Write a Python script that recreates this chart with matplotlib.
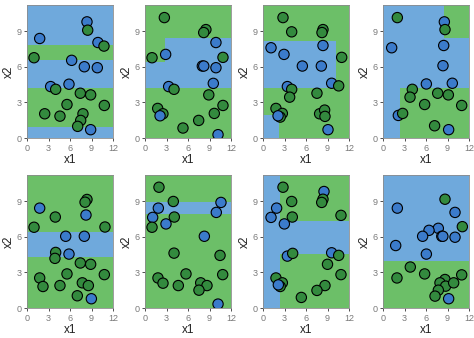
import matplotlib
matplotlib.use("Agg")
import matplotlib.pyplot as plt
from matplotlib.patches import Rectangle

plt.rcParams['font.family'] = ['Liberation Sans', 'DejaVu Sans']

# colours for the two classes
bg_col = {'b': '#6fa9dc', 'g': '#6cbf68'}
pt_col = {'b': '#3b7bcb', 'g': '#338a3e'}

x_ticks = [0, 3, 6, 9, 12]
y_ticks = [0, 3, 6, 9]
x_max = 12
y_max = 11.2

# tree leaves per panel: background class, then rectangles of (x0, x1, y0, y1, class)
trees = [
    ('b', [(0, 12, 0.9, 4.25, 'g'), (0, 12, 6.6, 7.85, 'g')]),
    ('g', [(0, 12, 4.25, 6.37, 'b'), (2.8, 12, 6.37, 8.45, 'b')]),
    ('g', [(0, 10.15, 4.25, 8.2, 'b'), (0, 2.3, 0, 1.9, 'b')]),
    ('b', [(2.35, 12, 0, 4.25, 'g'), (8.47, 12, 8.46, 12, 'g')]),
    ('g', [(0, 12, 4.32, 6.4, 'b')]),
    ('g', [(0, 12, 7.88, 8.9, 'b')]),
    ('b', [(2.33, 12, 7.33, 12, 'g'), (2.33, 12, 0, 4.57, 'g')]),
    ('b', [(0, 12, 0, 4.0, 'g')]),
]

# bootstrap samples (x1, x2, class) per panel
p1_x = [8.37, 8.47, 1.77, 9.9, 10.74, 0.98, 6.23, 8.0, 9.81, 5.86, 3.3, 4.0, 7.44, 8.88, 5.58, 10.79, 2.47, 7.81, 4.6, 7.49, 7.07, 8.88]
p1_y = [9.78, 9.08, 8.38, 8.04, 7.74, 6.76, 6.54, 6.0, 5.92, 4.53, 4.33, 4.1, 3.77, 3.63, 2.82, 2.74, 2.04, 2.04, 1.84, 1.48, 0.98, 0.7]
p1_c = list('bbbbggbbbbbgggggggggg') + ['b']
p1_c = ['b', 'g', 'b', 'b', 'g', 'g', 'b', 'b', 'b', 'b', 'b', 'g', 'g', 'g', 'g', 'g', 'g', 'g', 'g', 'g', 'g', 'b']

p2_x = [2.7, 8.5, 8.19, 9.9, 0.98, 10.88, 2.88, 8.0, 8.2, 9.9, 9.53, 3.3, 4.05, 8.9, 10.88, 1.77, 2.5, 2.1, 9.67, 7.49, 5.3, 10.19]
p2_y = [10.14, 9.13, 8.88, 8.04, 6.76, 6.79, 7.04, 6.06, 6.06, 5.92, 4.6, 4.33, 4.1, 3.63, 2.74, 2.49, 2.04, 1.87, 2.07, 1.48, 0.84, 0.28]
p2_c = ['g', 'g', 'g', 'b', 'g', 'g', 'b', 'b', 'b', 'b', 'b', 'b', 'g', 'g', 'g', 'g', 'g', 'b', 'g', 'g', 'g', 'b']

p3_x = [2.79, 4.0, 8.37, 8.23, 1.12, 8.37, 2.93, 10.98, 5.49, 8.14, 9.58, 10.56, 3.4, 4.0, 3.72, 7.53, 1.81, 2.7, 2.4, 2.1, 7.9, 8.6, 8.65, 9.07]
p3_y = [10.14, 8.94, 9.13, 8.88, 7.6, 7.79, 7.04, 6.79, 6.06, 6.06, 4.61, 4.39, 4.33, 4.1, 3.44, 3.77, 2.49, 2.07, 1.76, 1.87, 2.04, 2.35, 1.82, 0.7]
p3_c = ['g', 'g', 'g', 'g', 'b', 'b', 'b', 'g', 'b', 'b', 'b', 'g', 'b', 'g', 'g', 'g', 'g', 'g', 'g', 'b', 'g', 'g', 'g', 'b']

p4_x = [2.0, 8.56, 8.65, 1.21, 8.47, 8.37, 6.05, 9.67, 4.09, 3.77, 7.63, 9.12, 5.81, 10.98, 2.14, 2.74, 7.2, 9.16]
p4_y = [10.14, 9.78, 9.13, 7.6, 7.79, 6.09, 4.55, 4.61, 4.1, 3.44, 3.77, 3.63, 2.82, 2.74, 1.9, 2.07, 1.03, 0.7]
p4_c = ['g', 'b', 'g', 'b', 'b', 'b', 'b', 'b', 'g', 'g', 'g', 'g', 'g', 'g', 'b', 'g', 'g', 'b']

p5_x = [8.37, 8.1, 1.77, 8.23, 3.95, 0.98, 10.88, 5.4, 8.0, 4.0, 5.86, 3.9, 7.44, 8.88, 5.58, 10.79, 1.77, 2.23, 4.6, 7.72, 8.56, 7.02, 8.98]
p5_y = [9.14, 8.91, 8.41, 7.83, 7.66, 6.8, 6.82, 6.04, 6.04, 4.68, 4.54, 4.18, 3.79, 3.68, 2.87, 2.81, 2.53, 1.81, 1.89, 2.12, 1.89, 1.03, 0.78]
p5_c = ['g', 'g', 'b', 'b', 'g', 'g', 'g', 'b', 'b', 'g', 'b', 'g', 'g', 'g', 'g', 'g', 'g', 'g', 'g', 'g', 'g', 'g', 'b']

p6_x = [1.95, 3.95, 10.6, 1.86, 9.95, 1.07, 4.09, 2.93, 0.98, 8.28, 4.05, 10.47, 5.72, 10.84, 1.81, 2.51, 4.65, 7.77, 8.65, 7.53, 10.19]
p6_y = [10.17, 8.97, 8.89, 8.41, 8.05, 7.63, 7.66, 7.08, 6.8, 6.04, 4.62, 4.43, 2.87, 2.81, 2.53, 2.09, 1.89, 2.12, 1.89, 1.5, 0.33]
p6_c = ['g', 'g', 'b', 'b', 'b', 'b', 'g', 'b', 'g', 'b', 'g', 'g', 'g', 'g', 'g', 'g', 'g', 'g', 'g', 'g', 'b']

p7_x = [2.79, 8.51, 8.37, 8.19, 4.0, 1.9, 1.12, 4.09, 10.88, 2.98, 9.58, 10.56, 3.4, 4.14, 9.0, 10.88, 1.81, 2.7, 2.4, 2.14, 8.65, 7.53, 5.35]
p7_y = [10.17, 9.81, 9.16, 8.89, 8.97, 8.41, 7.63, 7.66, 7.8, 7.08, 4.65, 4.43, 4.37, 4.6, 3.68, 2.81, 2.53, 2.12, 1.81, 1.95, 1.89, 1.48, 0.89]
p7_c = ['g', 'b', 'g', 'g', 'g', 'b', 'b', 'g', 'g', 'b', 'b', 'g', 'b', 'g', 'g', 'g', 'g', 'g', 'g', 'b', 'g', 'g', 'g']

p8_x = [8.65, 2.0, 10.05, 11.07, 7.72, 6.42, 5.53, 8.2, 8.35, 10.05, 1.77, 6.05, 3.81, 5.81, 10.98, 1.95, 8.65, 7.95, 8.74, 9.86, 7.72, 7.26, 9.16]
p8_y = [9.16, 8.41, 8.05, 6.85, 6.71, 6.54, 6.04, 6.04, 6.04, 5.96, 5.26, 4.54, 3.45, 2.87, 2.79, 2.53, 2.4, 2.12, 1.84, 2.12, 1.5, 1.0, 0.78]
p8_c = ['g', 'b', 'b', 'g', 'b', 'b', 'b', 'b', 'b', 'b', 'b', 'b', 'g', 'g', 'g', 'g', 'g', 'g', 'g', 'g', 'g', 'g', 'b']

samples = [(p1_x, p1_y, p1_c), (p2_x, p2_y, p2_c), (p3_x, p3_y, p3_c), (p4_x, p4_y, p4_c),
           (p5_x, p5_y, p5_c), (p6_x, p6_y, p6_c), (p7_x, p7_y, p7_c), (p8_x, p8_y, p8_c)]

W, H = 474, 338
fig = plt.figure(figsize=(W / 100, H / 100), dpi=100)

lefts = [27, 145, 263, 383]
tops = [5, 175]
aw, ah = 86, 133

for i in range(8):
    r, c = divmod(i, 4)
    ax = fig.add_axes([lefts[c] / W, 1 - (tops[r] + ah) / H, aw / W, ah / H])
    bg, rects = trees[i]
    ax.add_patch(Rectangle((0, 0), x_max, y_max + 1, color=bg_col[bg], lw=0, zorder=0))
    for x0, x1, y0, y1, k in rects:
        ax.add_patch(Rectangle((x0, y0), x1 - x0, y1 - y0, color=bg_col[k], lw=0, zorder=1))
    xs, ys, cs = samples[i]
    ax.scatter(xs, ys, s=55, c=[pt_col[k] for k in cs], edgecolors='black',
               linewidths=0.8, zorder=3)
    ax.set_xlim(0, x_max)
    ax.set_ylim(0, y_max)
    ax.set_xticks(x_ticks)
    ax.set_yticks(y_ticks)
    ax.tick_params(length=2.5, width=0.6, color='#333333', labelcolor='#7a7a7a',
                   labelsize=6.5, pad=1.5)
    for s in ax.spines.values():
        s.set_color('#8c8c8c')
        s.set_linewidth(0.6)
    ax.set_xlabel('x1', fontsize=8.5, color='#222222', labelpad=1)
    ax.set_ylabel('x2', fontsize=8.5, color='#222222', labelpad=1)

fig.savefig('out.png', dpi=100)
